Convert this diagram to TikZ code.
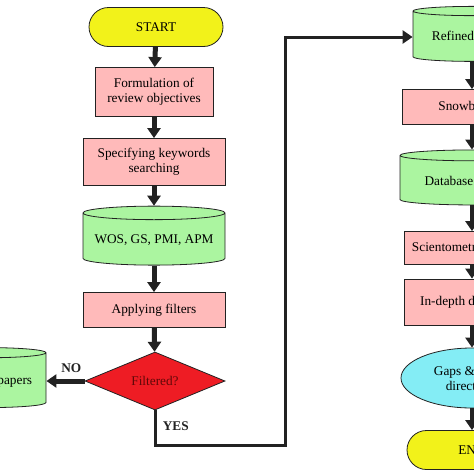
\documentclass[tikz,border=0pt]{standalone}
\usepackage{fontspec}
\setmainfont{Liberation Serif}
\usetikzlibrary{shapes.geometric,shapes.misc,arrows.meta}

\definecolor{boxpink}{HTML}{FFBABA}
\definecolor{dbgreen}{HTML}{ABF5A0}
\definecolor{termyellow}{HTML}{F2F21A}
\definecolor{decred}{HTML}{EE1C24}
\definecolor{dectext}{HTML}{600808}
\definecolor{gapcyan}{HTML}{84EDF5}
\definecolor{linegray}{HTML}{222222}

\tikzset{
    base/.style={draw=linegray, line width=0.8pt, font=\fontsize{13.3}{15}\selectfont, align=center, inner sep=2pt},
    terminal/.style={base, rounded rectangle, fill=termyellow, minimum height=39},
    process/.style={base, rectangle, fill=boxpink},
    store/.style={base, cylinder, shape border rotate=90, aspect=0.11, fill=dbgreen},
    decision/.style={base, diamond, fill=decred, text=dectext, inner sep=0pt, aspect=2.4},
    outcome/.style={base, ellipse, fill=gapcyan, inner sep=0pt},
    flow/.style={draw=linegray, line width=5pt, -{Triangle[width=13pt,length=10pt]}},
    route/.style={draw=linegray, line width=3pt},
    tag/.style={font=\fontsize{13.3}{15}\selectfont\bfseries, text=linegray}
}

\begin{document}
\begin{tikzpicture}[x=1pt,y=-1pt]
    \useasboundingbox (0,0) rectangle (474,474);
    \clip (0,0) rectangle (474,474);

    % left column
    \node[terminal, minimum width=138] (start) at (156,27) {START};
    \node[process, minimum width=118, minimum height=49] (formul) at (154,92) {Formulation of\\review objectives};
    \node[process, minimum width=142, minimum height=47] (keyw) at (154,162) {Specifying keywords\\searching};
    \node[store, minimum width=142, minimum height=59] (wos) at (154,240) {WOS, GS, PMI, APM};
    \node[process, minimum width=142, minimum height=35] (filters) at (154,310) {Applying filters};
    \node[decision, minimum width=140, minimum height=58] (filtq) at (155,381) {Filtered?};
    \node[store, minimum width=116, minimum height=60] (excl) at (-12,381) {Excluded papers};

    % right column
    \node[store, minimum width=118, minimum height=55] (refined) at (472,37) {Refined papers};
    \node[process, minimum width=140, minimum height=35] (snow) at (472,107) {Snowballing};
    \node[store, minimum width=144, minimum height=55] (datab) at (472,181) {Database creation};
    \node[process, minimum width=136, minimum height=33] (scien) at (472,248) {Scientometric analysis};
    \node[process, minimum width=136, minimum height=46] (indepth) at (472,302) {In-depth discussion};
    \node[outcome, minimum width=142, minimum height=60] (gaps) at (472,378) {Gaps \& future\\directions};
    \node[terminal, minimum width=134] (finish) at (472,450) {END};

    \coordinate (yesturn) at (285,445);

    \draw[flow] (start) -- (formul);
    \draw[flow] (formul) -- (keyw);
    \draw[flow] (keyw) -- (wos);
    \draw[flow] (wos) -- (filters);
    \draw[flow] (filters) -- (filtq);
    \draw[flow] (filtq) -- node[tag, above=3pt, pos=0.35] {NO} (excl);
    \draw[route, -{Triangle[width=13pt,length=10pt]}] (filtq.south) -- node[tag, right=3pt, pos=0.45] {YES} (filtq.south |- yesturn) -- (yesturn) |- (refined.west);

    \draw[flow] (refined) -- (snow);
    \draw[flow] (snow) -- (datab);
    \draw[flow] (datab) -- (scien);
    \draw[flow] (scien) -- (indepth);
    \draw[flow] (indepth) -- (gaps);
    \draw[flow] (gaps) -- (finish);
\end{tikzpicture}
\end{document}
